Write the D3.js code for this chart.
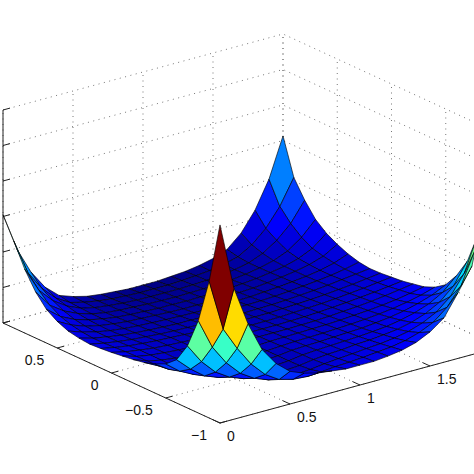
<!DOCTYPE html>
<html>
<head>
<meta charset="utf-8">
<script src="https://cdn.jsdelivr.net/npm/d3@7"></script>
<style>
  html, body { margin: 0; padding: 0; background: #fff; }
  svg { display: block; }
  text { font-family: "Liberation Sans", Arial, Helvetica, sans-serif; font-size: 14px; fill: #111; }
</style>
</head>
<body>
<svg id="chart" width="474" height="474"></svg>
<script>
// grid of the surface
const xValues = [0, 0.1, 0.2, 0.3, 0.4, 0.5, 0.6, 0.7, 0.8, 0.9, 1, 1.1, 1.2, 1.3, 1.4, 1.5, 1.6, 1.7, 1.8, 1.9, 2];
const yValues = [-1, -0.9, -0.8, -0.7, -0.6, -0.5, -0.4, -0.3, -0.2, -0.1, 0, 0.1, 0.2, 0.3, 0.4, 0.5, 0.6, 0.7, 0.8, 0.9, 1];

// surface heights, one row per y value
const zRows = [
	[5.58, 3.68, 2.58, 1.75, 1.25, 0.92, 0.76, 0.66, 0.61, 0.56, 0.56, 0.56, 0.60, 0.66, 0.77, 0.96, 1.25, 1.85, 2.50, 4.30, 5.50],
	[3.85, 2.40, 1.75, 1.20, 0.80, 0.55, 0.45, 0.42, 0.44, 0.48, 0.50, 0.53, 0.57, 0.61, 0.68, 0.80, 0.98, 1.30, 1.80, 2.70, 4.10],
	[2.60, 1.75, 1.20, 0.80, 0.55, 0.40, 0.34, 0.34, 0.37, 0.42, 0.46, 0.49, 0.53, 0.56, 0.61, 0.69, 0.82, 1.02, 1.35, 1.90, 2.90],
	[1.75, 1.20, 0.80, 0.55, 0.40, 0.32, 0.30, 0.31, 0.34, 0.40, 0.44, 0.46, 0.50, 0.52, 0.56, 0.61, 0.70, 0.84, 1.05, 1.40, 2.00],
	[1.22, 0.85, 0.55, 0.40, 0.32, 0.29, 0.29, 0.30, 0.33, 0.39, 0.42, 0.44, 0.46, 0.48, 0.51, 0.55, 0.62, 0.72, 0.86, 1.08, 1.45],
	[0.96, 0.65, 0.45, 0.34, 0.30, 0.29, 0.29, 0.30, 0.33, 0.38, 0.40, 0.41, 0.43, 0.45, 0.47, 0.51, 0.56, 0.63, 0.73, 0.86, 1.05],
	[0.82, 0.56, 0.42, 0.34, 0.31, 0.30, 0.30, 0.31, 0.33, 0.36, 0.38, 0.39, 0.40, 0.42, 0.44, 0.47, 0.51, 0.56, 0.63, 0.72, 0.84],
	[0.72, 0.52, 0.42, 0.36, 0.33, 0.32, 0.32, 0.32, 0.33, 0.35, 0.36, 0.37, 0.38, 0.39, 0.41, 0.44, 0.47, 0.51, 0.56, 0.63, 0.71],
	[0.66, 0.51, 0.43, 0.38, 0.35, 0.34, 0.33, 0.33, 0.33, 0.34, 0.34, 0.34, 0.35, 0.36, 0.38, 0.41, 0.44, 0.48, 0.53, 0.59, 0.65],
	[0.62, 0.50, 0.43, 0.39, 0.36, 0.34, 0.33, 0.32, 0.31, 0.31, 0.31, 0.31, 0.32, 0.33, 0.35, 0.38, 0.41, 0.45, 0.49, 0.54, 0.59],
	[0.58, 0.49, 0.43, 0.38, 0.35, 0.33, 0.31, 0.30, 0.29, 0.28, 0.28, 0.28, 0.29, 0.31, 0.33, 0.35, 0.38, 0.42, 0.46, 0.51, 0.56],
	[0.55, 0.47, 0.41, 0.37, 0.34, 0.32, 0.30, 0.28, 0.26, 0.26, 0.25, 0.26, 0.26, 0.28, 0.30, 0.32, 0.35, 0.39, 0.43, 0.48, 0.53],
	[0.53, 0.45, 0.39, 0.34, 0.31, 0.28, 0.26, 0.25, 0.24, 0.23, 0.22, 0.23, 0.24, 0.25, 0.27, 0.30, 0.33, 0.37, 0.42, 0.47, 0.52],
	[0.56, 0.45, 0.38, 0.32, 0.28, 0.25, 0.23, 0.21, 0.21, 0.20, 0.20, 0.20, 0.21, 0.22, 0.24, 0.27, 0.31, 0.35, 0.40, 0.47, 0.56],
	[0.62, 0.48, 0.38, 0.31, 0.26, 0.23, 0.21, 0.19, 0.18, 0.17, 0.17, 0.17, 0.18, 0.19, 0.22, 0.25, 0.29, 0.34, 0.40, 0.50, 0.65],
	[0.75, 0.54, 0.40, 0.31, 0.25, 0.21, 0.19, 0.17, 0.15, 0.14, 0.14, 0.14, 0.15, 0.17, 0.19, 0.23, 0.28, 0.34, 0.42, 0.55, 0.78],
	[0.95, 0.64, 0.45, 0.33, 0.25, 0.19, 0.16, 0.14, 0.12, 0.12, 0.11, 0.12, 0.12, 0.14, 0.17, 0.21, 0.27, 0.34, 0.45, 0.63, 0.95],
	[1.30, 0.82, 0.55, 0.37, 0.25, 0.18, 0.14, 0.12, 0.10, 0.09, 0.08, 0.09, 0.10, 0.12, 0.14, 0.19, 0.26, 0.36, 0.52, 0.80, 1.20],
	[1.80, 1.10, 0.70, 0.44, 0.27, 0.18, 0.13, 0.09, 0.07, 0.06, 0.06, 0.06, 0.07, 0.09, 0.13, 0.18, 0.26, 0.42, 0.68, 1.05, 1.60],
	[2.45, 1.45, 0.90, 0.52, 0.29, 0.19, 0.12, 0.07, 0.05, 0.03, 0.03, 0.03, 0.05, 0.08, 0.12, 0.19, 0.29, 0.52, 0.88, 1.39, 2.10],
	[3.05, 1.97, 1.22, 0.69, 0.35, 0.21, 0.11, 0.06, 0.03, 0.00, 0.00, 0.00, 0.03, 0.06, 0.12, 0.21, 0.36, 0.71, 1.25, 2.02, 3.13]
];

// axis ticks
const xTicks = [0, 0.5, 1, 1.5, 2];
const xTickLabels = ["0", "0.5", "1", "1.5", "2"];
const yTicks = [-1, -0.5, 0, 0.5, 1];
const yTickLabels = ["\u22121", "\u22120.5", "0", "0.5", "1"];
const zTicks = [0, 1, 2, 3, 4, 5, 6];

const width = 474;


const svg = d3.select("#chart");

// Oblique projection of the axes box: each axis gives a horizontal and a vertical share
const origin = [220, 423];
const xToPx = d3.scaleLinear().domain([0, 2]).range([0, 280]);
const xToPy = d3.scaleLinear().domain([0, 2]).range([0, -76]);
const yToPx = d3.scaleLinear().domain([-1, 1]).range([0, -217]);
const yToPy = d3.scaleLinear().domain([-1, 1]).range([0, -100]);
const zToPy = d3.scaleLinear().domain([0, 6]).range([0, -213]);

// Distance from the viewer, for painting back to front
const xDepth = d3.scaleLinear().domain([0, 2]).range([0, 0.573]);
const yDepth = d3.scaleLinear().domain([-1, 1]).range([0, 0.740]);
const zDepth = d3.scaleLinear().domain([0, 6]).range([0, -0.229]);

function project([x, y, z]) {
	return [origin[0] + xToPx(x) + yToPx(y), origin[1] + xToPy(x) + yToPy(y) + zToPy(z)];
}

function depthOf([x, y, z]) {
	return xDepth(x) + yDepth(y) + zDepth(z);
}

// MATLAB jet colormap over the data range
const [zMin, zMax] = d3.extent(zRows.flat());
const jet = d3.scaleLinear()
	.domain([0, 0.125, 0.375, 0.625, 0.875, 1].map(t => zMin + t * (zMax - zMin)))
	.range(["#000080", "#0000ff", "#00ffff", "#ffff00", "#ff0000", "#800000"])
	.clamp(true);

const line3d = d3.line().x(p => project(p)[0]).y(p => project(p)[1]);

// Dotted grid on the floor and on the two back walls
const gridLines = [];
for (const x of xTicks) {
	gridLines.push([[x, -1, 0], [x, 1, 0]]);
	gridLines.push([[x, 1, 0], [x, 1, 6]]);
}
for (const y of yTicks) {
	gridLines.push([[0, y, 0], [2, y, 0]]);
	gridLines.push([[2, y, 0], [2, y, 6]]);
}
for (const z of zTicks) {
	gridLines.push([[0, 1, z], [2, 1, z]]);
	gridLines.push([[2, -1, z], [2, 1, z]]);
}

svg.append("g")
	.attr("class", "grid")
	.selectAll("path")
	.data(gridLines)
	.join("path")
	.attr("d", line3d)
	.attr("fill", "none")
	.attr("stroke", "#777")
	.attr("stroke-width", 1)
	.attr("stroke-dasharray", "1,4.5");

// Axis lines and tick marks
const axisLines = [
	[[0, -1, 0], [2, -1, 0]],
	[[0, -1, 0], [0, 1, 0]],
	[[0, 1, 0], [0, 1, 6]]
];
const tickMarks = [
	...xTicks.map(x => [[x, -1, 0], [x, -0.93, 0]]),
	...yTicks.map(y => [[0, y, 0], [0.05, y, 0]]),
	...zTicks.map(z => [[0, 1, z], [0.05, 1, z]])
];

const axes = svg.append("g").attr("class", "axes");
axes.selectAll("path")
	.data([...axisLines, ...tickMarks])
	.join("path")
	.attr("d", line3d)
	.attr("fill", "none")
	.attr("stroke", "#222")
	.attr("stroke-width", 1);

// Tick labels; the ones that fall past the picture's edge are cropped away in the original
const xLabelData = xTicks
	.map((x, i) => ({ pos: project([x, -1, 0]), label: xTickLabels[i] }))
	.filter(d => d.pos[0] + 7 < width - 10);
const yLabelData = yTicks
	.map((y, i) => ({ pos: project([0, y, 0]), label: yTickLabels[i] }))
	.filter(d => d.pos[0] - 13 > 10);

axes.selectAll("text.x")
	.data(xLabelData)
	.join("text")
	.attr("class", "x")
	.attr("x", d => d.pos[0] + 7)
	.attr("y", d => d.pos[1] + 18)
	.attr("text-anchor", "start")
	.text(d => d.label);

axes.selectAll("text.y")
	.data(yLabelData)
	.join("text")
	.attr("class", "y")
	.attr("x", d => d.pos[0] - 13)
	.attr("y", d => d.pos[1] + 16.5)
	.attr("text-anchor", "end")
	.text(d => d.label);

// Surface faces, each coloured by its first corner like MATLAB's flat shading
const faces = [];
for (let i = 0; i < yValues.length - 1; i++) {
	for (let j = 0; j < xValues.length - 1; j++) {
		const corners = [[j, i], [j + 1, i], [j + 1, i + 1], [j, i + 1]]
			.map(([c, r]) => [xValues[c], yValues[r], zRows[r][c]]);
		faces.push({
			corners,
			value: zRows[i][j],
			depth: d3.mean(corners, depthOf)
		});
	}
}
faces.sort((a, b) => b.depth - a.depth);

svg.append("g")
	.attr("class", "surface")
	.selectAll("path")
	.data(faces)
	.join("path")
	.attr("d", face => line3d(face.corners) + "Z")
	.attr("fill", face => jet(face.value))
	.attr("stroke", "#000")
	.attr("stroke-opacity", 0.9)
	.attr("stroke-width", 0.7)
	.attr("stroke-linejoin", "round");
</script>
</body>
</html>
